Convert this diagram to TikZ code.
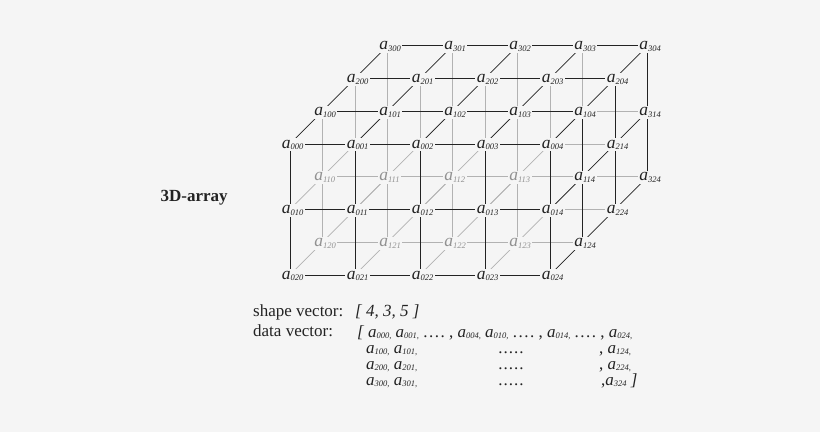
\documentclass[tikz,border=0pt]{standalone}
\usepackage{fontspec}
\setmainfont{Liberation Serif}
\definecolor{bg}{RGB}{245,245,245}
\definecolor{edgeblack}{RGB}{35,35,35}
\definecolor{edgegrey}{RGB}{178,178,178}
\definecolor{labgrey}{RGB}{145,145,145}
\newcommand{\gsub}[1]{\raisebox{-1.8pt}{\fontsize{8.5}{8.5}\selectfont\itshape #1}}
\newcommand{\glab}[1]{{\fontsize{17.5}{17.5}\selectfont\itshape a}\gsub{#1}}
\newcommand{\dsub}[1]{\raisebox{-1.5pt}{\fontsize{8.5}{8.5}\selectfont\itshape #1}}
\newcommand{\da}[1]{{\itshape a}\dsub{#1}}
\newcommand{\fourdots}{.\kern1.5pt.\kern1.5pt.\kern1.5pt.}
\newcommand{\fivedots}{.\kern1pt.\kern1pt.\kern1pt.\kern1pt.}
\tikzset{
  blackedge/.style={draw=edgeblack, line width=0.7pt},
  greyedge/.style={draw=edgegrey, line width=0.7pt},
  gridlab/.style={anchor=base west, inner sep=1.5pt, fill=bg, text=edgeblack, xshift=-9.9pt, yshift=-4pt},
  hidlab/.style={gridlab, text=labgrey},
  rowtxt/.style={anchor=base west, inner sep=0pt, text=edgeblack, font=\fontsize{17}{17}\selectfont}
}
\begin{document}
\begin{tikzpicture}[x=1pt,y=-1pt]
\fill[bg] (0,0) rectangle (820,432);
\useasboundingbox (0,0) rectangle (820,432);
% grid points
\foreach \i in {0,...,3}{
  \foreach \j in {0,...,2}{
    \foreach \k in {0,...,4}{
      \coordinate (p\i\j\k) at ({290+65*\k+32.5*\i},{144+65.5*\j-32.75*\i});
    }}}
% hidden (grey) edges
\foreach \i in {0,...,3}{
  \foreach \j in {0,...,2}{
    \foreach \k in {0,...,4}{
      \pgfmathtruncatemacro\ii{\i+1}
      \pgfmathtruncatemacro\jj{\j+1}
      \pgfmathtruncatemacro\kk{\k+1}
      \pgfmathtruncatemacro\hb{(\i==0)||(\j==0)}
      \pgfmathtruncatemacro\vb{(\i==0)||(\k==4)}
      \pgfmathtruncatemacro\db{(\j==0)||(\k==4)}
      \ifnum\k<4 \ifnum\hb=0 \draw[greyedge] (p\i\j\k) -- (p\i\j\kk); \fi\fi
      \ifnum\j<2 \ifnum\vb=0 \draw[greyedge] (p\i\j\k) -- (p\i\jj\k); \fi\fi
      \ifnum\i<3 \ifnum\db=0 \draw[greyedge] (p\i\j\k) -- (p\ii\j\k); \fi\fi
    }}}
% visible (black) edges
\foreach \i in {0,...,3}{
  \foreach \j in {0,...,2}{
    \foreach \k in {0,...,4}{
      \pgfmathtruncatemacro\ii{\i+1}
      \pgfmathtruncatemacro\jj{\j+1}
      \pgfmathtruncatemacro\kk{\k+1}
      \pgfmathtruncatemacro\hb{(\i==0)||(\j==0)}
      \pgfmathtruncatemacro\vb{(\i==0)||(\k==4)}
      \pgfmathtruncatemacro\db{(\j==0)||(\k==4)}
      \ifnum\k<4 \ifnum\hb=1 \draw[blackedge] (p\i\j\k) -- (p\i\j\kk); \fi\fi
      \ifnum\j<2 \ifnum\vb=1 \draw[blackedge] (p\i\j\k) -- (p\i\jj\k); \fi\fi
      \ifnum\i<3 \ifnum\db=1 \draw[blackedge] (p\i\j\k) -- (p\ii\j\k); \fi\fi
    }}}
% labels: front face
\foreach \j in {0,...,2}{
  \foreach \k in {0,...,4}{
    \node[gridlab] (n0\j\k) at (p0\j\k) {\glab{0\j\k}};
  }}
% top face
\foreach \i in {1,...,3}{
  \foreach \k in {0,...,4}{
    \node[gridlab] (n\i0\k) at (p\i0\k) {\glab{\i0\k}};
  }}
% right face
\foreach \i in {1,...,3}{
  \foreach \j in {1,2}{
    \node[gridlab] (n\i\j4) at (p\i\j4) {\glab{\i\j4}};
  }}
% hidden labels
\foreach \j in {1,2}{
  \foreach \k in {0,...,3}{
    \node[hidlab] (n1\j\k) at (p1\j\k) {\glab{1\j\k}};
  }}
% texts
\node[anchor=base west, inner sep=0pt, text=edgeblack, font=\fontsize{17}{17}\selectfont\bfseries] (title) at (160.5,201.5) {3D-array};
\node[anchor=base west, inner sep=0pt, text=edgeblack, font=\fontsize{17}{17}\selectfont] (shapelab) at (253,316) {shape vector:};
\node[anchor=base west, inner sep=0pt, text=edgeblack, font=\fontsize{17}{17}\selectfont\itshape] (shapeval) at (355,316) {[ 4, 3, 5 ]};
\node[anchor=base west, inner sep=0pt, text=edgeblack, font=\fontsize{17}{17}\selectfont] (datalab) at (253,336) {data vector:};
\node[rowtxt] (row1) at (357,337) {{\itshape [} \da{000,} \da{001,} \fourdots\ , \da{004,} \da{010,} \fourdots\ , \da{014,} \fourdots\ , \da{024,}};
\node[rowtxt] (row2a) at (366,353) {\da{100,} \da{101,}};
\node[rowtxt] (row3a) at (366,369) {\da{200,} \da{201,}};
\node[rowtxt] (row4a) at (366,385) {\da{300,} \da{301,}};
\node[rowtxt, anchor=base] (row2b) at (511,353) {\fivedots};
\node[rowtxt, anchor=base] (row3b) at (511,369) {\fivedots};
\node[rowtxt, anchor=base] (row4b) at (511,385) {\fivedots};
\node[rowtxt] (row2c) at (599,353) {, \da{124,}};
\node[rowtxt] (row3c) at (599,369) {, \da{224,}};
\node[rowtxt] (row4c) at (601,385) {,\da{324} {\itshape ]}};
\end{tikzpicture}
\end{document}
